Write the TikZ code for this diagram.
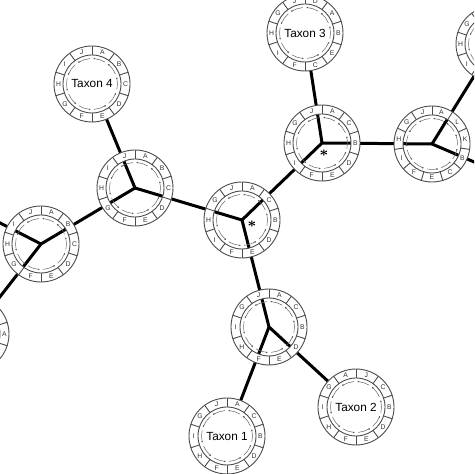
\documentclass[tikz,border=0pt]{standalone}
\usepackage{fontspec}
\setmainfont{Liberation Sans}
\usepackage{tikz}
\usetikzlibrary{arrows,shapes}
\tikzstyle{edge}=[line width=1.5pt, black]
\tikzstyle{ringline}=[line width=0.45pt, black!70]
\tikzstyle{gene}=[inner sep=0pt, text=black!80, font=\fontsize{3.4}{4}\selectfont]
\tikzstyle{taxon}=[inner sep=0pt, font=\fontsize{5.9}{7}\selectfont]
\tikzstyle{track}=[line width=0.25pt, black!60]
\tikzstyle{star}=[inner sep=0pt, font=\fontsize{7.5}{8}\selectfont\boldmath]
\newcommand{\ringout}{38}
\newcommand{\ringin}{29}
\newcommand{\ringlab}{33.5}
\newcommand{\ringtrack}{25.5}
% ring of gene segments, clockwise from the top
\newcommand{\genering}[2]{%
  \foreach \g [count=\i] in {#2} {\xdef\nseg{\i}}
  \begin{scope}[shift={(#1)}]
    \fill[white,even odd rule] (0,0) circle (\ringout) (0,0) circle (\ringin);
    \draw[ringline] (0,0) circle (\ringout) (0,0) circle (\ringin);
    \foreach \g [count=\i] in {#2} {
      \pgfmathsetmacro\bnd{90-(\i-1)*360/\nseg}
      \pgfmathsetmacro\lbl{\bnd-180/\nseg}
      \pgfmathsetmacro\tend{\bnd-360/\nseg+5}
      \draw[ringline] (\bnd:\ringin) -- (\bnd:\ringout);
      \node[gene] (#1g\i) at (\lbl:\ringlab) {\g};
      \draw[track] (\bnd-5:\ringtrack) arc (\bnd-5:\tend:\ringtrack);
      \fill[black!70] (\bnd-5:\ringtrack) circle (0.8);
    }
  \end{scope}
}

\begin{document}
\begin{tikzpicture}[x=0.5pt,y=0.5pt,>=latex]
\useasboundingbox (0,0) rectangle (474,474);
\clip (0,0) rectangle (474,474);

\coordinate (tax4) at (92,390);
\coordinate (inL) at (135,286);
\coordinate (inFL) at (41,230);
\coordinate (inBL) at (-29,140);
\coordinate (outW) at (-66,285);
\coordinate (inC) at (242,254);
\coordinate (inS) at (322,331);
\coordinate (tax3) at (305,441);
\coordinate (inR) at (432,330);
\coordinate (inTR) at (494,430);
\coordinate (outE) at (542,283);
\coordinate (inD) at (269,147);
\coordinate (tax1) at (227,38);
\coordinate (tax2) at (356,67);

% branches
\draw[edge] (tax4) -- (inL);
\draw[edge] (inL) -- (inC);
\draw[edge] (inL) -- (inFL);
\draw[edge] (inFL) -- (inBL);
\draw[edge] (inFL) -- (outW);
\draw[edge] (inC) -- (inS);
\draw[edge] (inC) -- (inD);
\draw[edge] (inS) -- (tax3);
\draw[edge] (inS) -- (inR);
\draw[edge] (inR) -- (inTR);
\draw[edge] (inR) -- (outE);
\draw[edge] (inD) -- (tax1);
\draw[edge] (inD) -- (tax2);

% ancestors
\genering{inL}{A,B,C,D,E,F,G,H,I,J}
\genering{inFL}{A,B,C,D,E,F,G,H,I,J}
\genering{inBL}{B,J,A,C,D,E,F,G,H,I}
\genering{inC}{A,C,B,D,E,F,I,H,G,J}
\genering{inS}{A,C,B,D,E,F,I,H,G,J}
\genering{inR}{A,L,K,B,C,E,F,I,H,G,J}
\genering{inTR}{A,C,B,D,E,F,I,H,G,J}
\genering{inD}{A,C,B,D,E,F,H,I,G,J}

% leaves
\fill[white] (tax1) circle (\ringout);
\genering{tax1}{A,C,B,D,E,F,H,I,G,J}
\node[taxon] (lab1) at (tax1) {Taxon 1};
\fill[white] (tax2) circle (\ringout);
\genering{tax2}{J,C,B,D,E,F,H,I,G,A}
\node[taxon] (lab2) at (tax2) {Taxon 2};
\fill[white] (tax3) circle (\ringout);
\genering{tax3}{D,A,B,E,C,F,I,H,G,J}
\node[taxon] (lab3) at (tax3) {Taxon 3};
\fill[white] (tax4) circle (\ringout);
\genering{tax4}{A,B,C,D,E,F,G,H,I,J}
\node[taxon] (lab4) at (tax4) {Taxon 4};

\node[star] (starC) at (252,250) {$\ast$};
\node[star] (starS) at (324,321) {$\ast$};
\end{tikzpicture}
\end{document}
